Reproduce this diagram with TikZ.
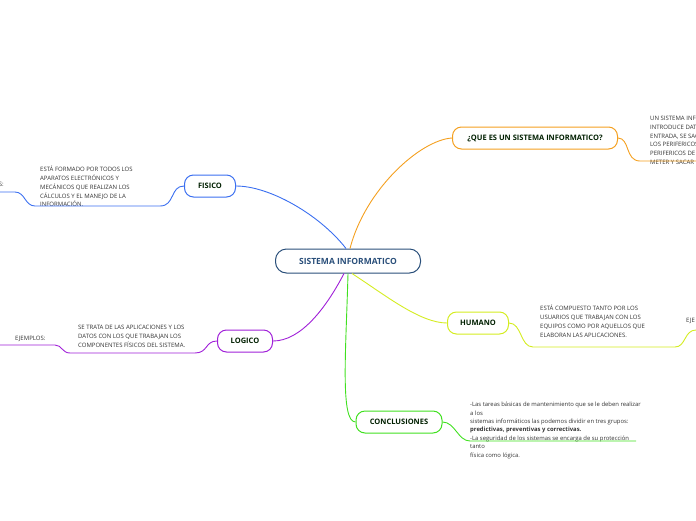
\documentclass[tikz,border=0pt]{standalone}
\usepackage{fontspec}
\setmainfont{Open Sans}
\begin{document}
\begin{tikzpicture}[x=1pt,y=-1pt,
  br/.style={draw=#1,line width=1pt,rounded corners=9pt,minimum height=22pt,inner xsep=6pt,font=\fontsize{7.5}{9}\selectfont\bfseries,text=black!80!green!60!black},
  ln/.style={draw=#1,line width=0.9pt},
  tx/.style={anchor=north west,inner sep=0pt,align=left,font=\fontsize{6}{8.8}\selectfont,text=black!80}]
\definecolor{cen}{HTML}{2A4F7A}
\definecolor{cfis}{HTML}{3B6FF0}
\definecolor{clog}{HTML}{A020D8}
\definecolor{cque}{HTML}{F4A020}
\definecolor{chum}{HTML}{D4EC20}
\definecolor{ccon}{HTML}{40E020}
\useasboundingbox (0,0) rectangle (696,520);
\node[br=cen,minimum width=145pt,minimum height=24pt,rounded corners=11pt,font=\fontsize{8.5}{10}\selectfont\bfseries,text=cen] (c) at (348,261) {SISTEMA INFORMATICO};
\node[br=cque,minimum width=165pt] (q) at (535,138) {¿QUE ES UN SISTEMA INFORMATICO?};
\node[br=cfis,minimum width=51pt] (f) at (210,186) {FISICO};
\node[br=clog,minimum width=55pt] (l) at (245,341) {LOGICO};
\node[br=chum,minimum width=61pt] (h) at (478,323) {HUMANO};
\node[br=ccon,minimum width=86pt] (k) at (399,422) {CONCLUSIONES};
% center connections
\draw[ln=cque] ([xshift=2pt]c.north) .. controls (365,190) and (420,140) .. (q.west);
\draw[ln=cfis] ([xshift=-2pt]c.north) .. controls (320,215) and (270,186) .. (f.east);
\draw[ln=clog] ([xshift=-4pt]c.south) .. controls (325,310) and (300,341) .. (l.east);
\draw[ln=chum] ([xshift=4pt]c.south) .. controls (385,295) and (420,323) .. (h.west);
\draw[ln=ccon] (c.south) .. controls (346,350) and (340,422) .. (k.west);
% texts
\node[tx] (tq) at (650,116) {UN SISTEMA INFORMATICO\\INTRODUCE DATOS POR\\ENTRADA, SE SACAN POR\\LOS PERIFERICOS DE\\PERIFERICOS DE SALIDA\\METER Y SACAR};
\coordinate (uq1) at (640,161); \coordinate (uq2) at (696,161);
\draw[ln=cque] (q.east) .. controls (630,138) and (625,161) .. (uq1) -- (uq2);
\node[tx] (tf) at (40,166) {ESTÁ FORMADO POR TODOS LOS\\APARATOS ELECTRÓNICOS Y\\MECÁNICOS QUE REALIZAN LOS\\CÁLCULOS Y EL MANEJO DE LA\\INFORMACIÓN.};
\coordinate (uf1) at (160,206); \coordinate (uf2) at (35,206); \coordinate (uf3) at (15,192); \coordinate (uf4) at (0,192);
\draw[ln=cfis] (f.west) .. controls (170,186) and (175,206) .. (uf1) -- (uf2) .. controls (25,206) and (25,192) .. (uf3) -- (uf4);
\node[tx] (tf2) at (-6,182) {OS:};
\node[tx] (tl) at (78,325) {SE TRATA DE LAS APLICACIONES Y LOS\\DATOS CON LOS QUE TRABAJAN LOS\\COMPONENTES FÍSICOS DEL SISTEMA.};
\coordinate (ul1) at (195,353); \coordinate (ul2) at (70,353); \coordinate (ul3) at (55,345); \coordinate (ul4) at (0,345);
\draw[ln=clog] (l.west) .. controls (205,341) and (208,353) .. (ul1) -- (ul2) .. controls (62,353) and (62,345) .. (ul3) -- (ul4);
\node[tx] (tl2) at (15,336) {EJEMPLOS:};
\node[tx] (th) at (540,305) {ESTÁ COMPUESTO TANTO POR LOS\\USUARIOS QUE TRABAJAN CON LOS\\EQUIPOS COMO POR AQUELLOS QUE\\ELABORAN LAS APLICACIONES.};
\coordinate (uh1) at (533,347); \coordinate (uh2) at (675,347); \coordinate (uh3) at (696,330);
\draw[ln=chum] (h.east) .. controls (522,323) and (520,347) .. (uh1) -- (uh2) .. controls (686,347) and (684,330) .. (uh3);
\node[tx] (th2) at (686,318) {EJE};
\node[tx,font=\fontsize{5.9}{8.4}\selectfont] (tk) at (470,402) {-Las tareas básicas de mantenimiento que se le deben realizar\\a los\\ sistemas informáticos las podemos dividir en tres grupos:\\\textbf{predictivas, preventivas y correctivas.}\\-La seguridad de los sistemas se encarga de su protección\\tanto\\física como lógica.};
\coordinate (uk1) at (470,441); \coordinate (uk2) at (636,441);
\draw[ln=ccon] (k.east) .. controls (455,422) and (458,441) .. (uk1) -- (uk2);
\end{tikzpicture}
\end{document}
